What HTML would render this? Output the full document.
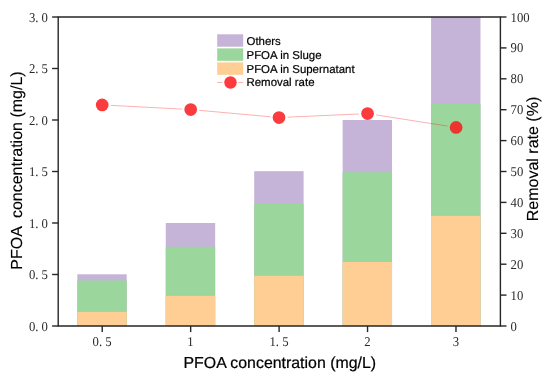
<!DOCTYPE html>
<html lang="en"><head><meta charset="utf-8"><title>PFOA concentration chart</title>
<style>html,body{margin:0;padding:0;background:#fff}svg{display:block}</style></head>
<body>
<svg width="550" height="382" viewBox="0 0 550 382">
<rect width="550" height="382" fill="#fff"/>
<rect x="77.32" y="274.30" width="49.4" height="51.70" fill="#c5b4d8"/>
<rect x="77.32" y="280.40" width="49.4" height="45.60" fill="#9bd69c"/>
<rect x="77.32" y="311.90" width="49.4" height="14.10" fill="#fece95"/>
<rect x="165.76" y="223.00" width="49.4" height="103.00" fill="#c5b4d8"/>
<rect x="165.76" y="246.80" width="49.4" height="79.20" fill="#9bd69c"/>
<rect x="165.76" y="295.80" width="49.4" height="30.20" fill="#fece95"/>
<rect x="254.20" y="171.20" width="49.4" height="154.80" fill="#c5b4d8"/>
<rect x="254.20" y="203.80" width="49.4" height="122.20" fill="#9bd69c"/>
<rect x="254.20" y="275.80" width="49.4" height="50.20" fill="#fece95"/>
<rect x="342.64" y="120.00" width="49.4" height="206.00" fill="#c5b4d8"/>
<rect x="342.64" y="172.20" width="49.4" height="153.80" fill="#9bd69c"/>
<rect x="342.64" y="262.00" width="49.4" height="64.00" fill="#fece95"/>
<rect x="431.08" y="17.00" width="49.4" height="309.00" fill="#c5b4d8"/>
<rect x="431.08" y="104.00" width="49.4" height="222.00" fill="#9bd69c"/>
<rect x="431.08" y="215.80" width="49.4" height="110.20" fill="#fece95"/>
<g stroke="#262626" stroke-width="1.4" fill="none" stroke-linecap="butt">
<path d="M58.2 16.3 V326.7 M500.4 16.3 V326.7 M58.2 17.0 H500.4 M58.2 326.0 H500.4"/>
<path d="M52.10 326.00 H58.2"/>
<path d="M52.10 274.50 H58.2"/>
<path d="M52.10 223.00 H58.2"/>
<path d="M52.10 171.50 H58.2"/>
<path d="M52.10 120.00 H58.2"/>
<path d="M52.10 68.50 H58.2"/>
<path d="M52.10 17.00 H58.2"/>
<path d="M500.4 326.00 H506.50"/>
<path d="M500.4 295.10 H506.50"/>
<path d="M500.4 264.20 H506.50"/>
<path d="M500.4 233.30 H506.50"/>
<path d="M500.4 202.40 H506.50"/>
<path d="M500.4 171.50 H506.50"/>
<path d="M500.4 140.60 H506.50"/>
<path d="M500.4 109.70 H506.50"/>
<path d="M500.4 78.80 H506.50"/>
<path d="M500.4 47.90 H506.50"/>
<path d="M500.4 17.00 H506.50"/>
<path d="M102.22 326.0 V332.10"/>
<path d="M190.66 326.0 V332.10"/>
<path d="M279.10 326.0 V332.10"/>
<path d="M367.54 326.0 V332.10"/>
<path d="M455.98 326.0 V332.10"/>
</g>
<g stroke="#fa191c" stroke-opacity="0.34" stroke-width="1" fill="none">
<path d="M110.79 105.35 L182.11 109.10"/>
<path d="M199.26 110.33 L270.44 116.77"/>
<path d="M287.59 117.17 L358.96 113.98"/>
<path d="M376.05 114.92 L447.60 126.08"/>
</g>
<circle cx="102.2" cy="104.9" r="6.35" fill="#fa191c" fill-opacity="0.85"/>
<circle cx="190.7" cy="109.55" r="6.35" fill="#fa191c" fill-opacity="0.85"/>
<circle cx="279.0" cy="117.55" r="6.35" fill="#fa191c" fill-opacity="0.85"/>
<circle cx="367.55" cy="113.6" r="6.35" fill="#fa191c" fill-opacity="0.85"/>
<circle cx="456.1" cy="127.4" r="6.35" fill="#fa191c" fill-opacity="0.85"/>
<g font-family='"Liberation Serif","Noto Serif CJK SC",serif' font-size="12" fill="#2a2a2a" text-rendering="geometricPrecision">
<text transform="translate(28.90 330.50) scale(1.06 1.12)">0.<tspan dx="3">0</tspan></text>
<text transform="translate(28.90 279.00) scale(1.06 1.12)">0.<tspan dx="3">5</tspan></text>
<text transform="translate(28.90 227.50) scale(1.06 1.12)">1.<tspan dx="3">0</tspan></text>
<text transform="translate(28.90 176.00) scale(1.06 1.12)">1.<tspan dx="3">5</tspan></text>
<text transform="translate(28.90 124.50) scale(1.06 1.12)">2.<tspan dx="3">0</tspan></text>
<text transform="translate(28.90 73.00) scale(1.06 1.12)">2.<tspan dx="3">5</tspan></text>
<text transform="translate(28.90 21.50) scale(1.06 1.12)">3.<tspan dx="3">0</tspan></text>
<text transform="translate(510.60 330.50) scale(1.06 1.12)">0</text>
<text transform="translate(510.60 299.60) scale(1.06 1.12)">10</text>
<text transform="translate(510.60 268.70) scale(1.06 1.12)">20</text>
<text transform="translate(510.60 237.80) scale(1.06 1.12)">30</text>
<text transform="translate(510.60 206.90) scale(1.06 1.12)">40</text>
<text transform="translate(510.60 176.00) scale(1.06 1.12)">50</text>
<text transform="translate(510.60 145.10) scale(1.06 1.12)">60</text>
<text transform="translate(510.60 114.20) scale(1.06 1.12)">70</text>
<text transform="translate(510.60 83.30) scale(1.06 1.12)">80</text>
<text transform="translate(510.60 52.40) scale(1.06 1.12)">90</text>
<text transform="translate(510.60 21.50) scale(1.06 1.12)">100</text>
<text transform="translate(92.62 346.40) scale(1.06 1.12)">0.<tspan dx="3">5</tspan></text>
<text transform="translate(187.36 346.40) scale(1.06 1.12)">1</text>
<text transform="translate(269.50 346.40) scale(1.06 1.12)">1.<tspan dx="3">5</tspan></text>
<text transform="translate(364.24 346.40) scale(1.06 1.12)">2</text>
<text transform="translate(452.68 346.40) scale(1.06 1.12)">3</text>
</g>
<text font-family='"Liberation Sans",sans-serif' fill="#000" text-rendering="geometricPrecision" font-size="15.9" x="279.8" y="367.6" stroke="#000" stroke-width="0.22" text-anchor="middle">PFOA concentration (mg/L)</text>
<text font-family='"Liberation Sans",sans-serif' fill="#000" text-rendering="geometricPrecision" font-size="16" transform="translate(21.7 170.5) rotate(-90)" stroke="#000" stroke-width="0.12" text-anchor="middle" xml:space="preserve" style="white-space:pre">PFOA  concentration (mg/L)</text>
<text font-family='"Liberation Sans",sans-serif' fill="#000" text-rendering="geometricPrecision" font-size="16" transform="translate(538.0 159) rotate(-90)" stroke="#000" stroke-width="0.12" text-anchor="middle">Removal rate (%)</text>
<rect x="217.2" y="34.3" width="26" height="12.4" fill="#c5b4d8"/>
<text font-family='"Liberation Sans",sans-serif' fill="#000" text-rendering="geometricPrecision" font-size="11.45" stroke="#000" stroke-width="0.2" x="246.5" y="44.8">Others</text>
<rect x="217.2" y="48.4" width="26" height="12.4" fill="#9bd69c"/>
<text font-family='"Liberation Sans",sans-serif' fill="#000" text-rendering="geometricPrecision" font-size="11.45" stroke="#000" stroke-width="0.2" x="246.5" y="58.75">PFOA in Sluge</text>
<rect x="217.2" y="62.4" width="26" height="12.4" fill="#fece95"/>
<text font-family='"Liberation Sans",sans-serif' fill="#000" text-rendering="geometricPrecision" font-size="11.45" stroke="#000" stroke-width="0.2" x="246.5" y="72.65">PFOA in Supernatant</text>
<path d="M217.2 82.5 H222.29999999999998 M238.39999999999998 82.5 H243.2" stroke="#fa191c" stroke-opacity="0.34" stroke-width="1"/>
<circle cx="230.50" cy="82.5" r="6.25" fill="#fa191c" fill-opacity="0.85"/>
<text font-family='"Liberation Sans",sans-serif' fill="#000" text-rendering="geometricPrecision" font-size="11.45" stroke="#000" stroke-width="0.2" x="246.5" y="86.4">Removal rate</text>
</svg>
</body></html>
